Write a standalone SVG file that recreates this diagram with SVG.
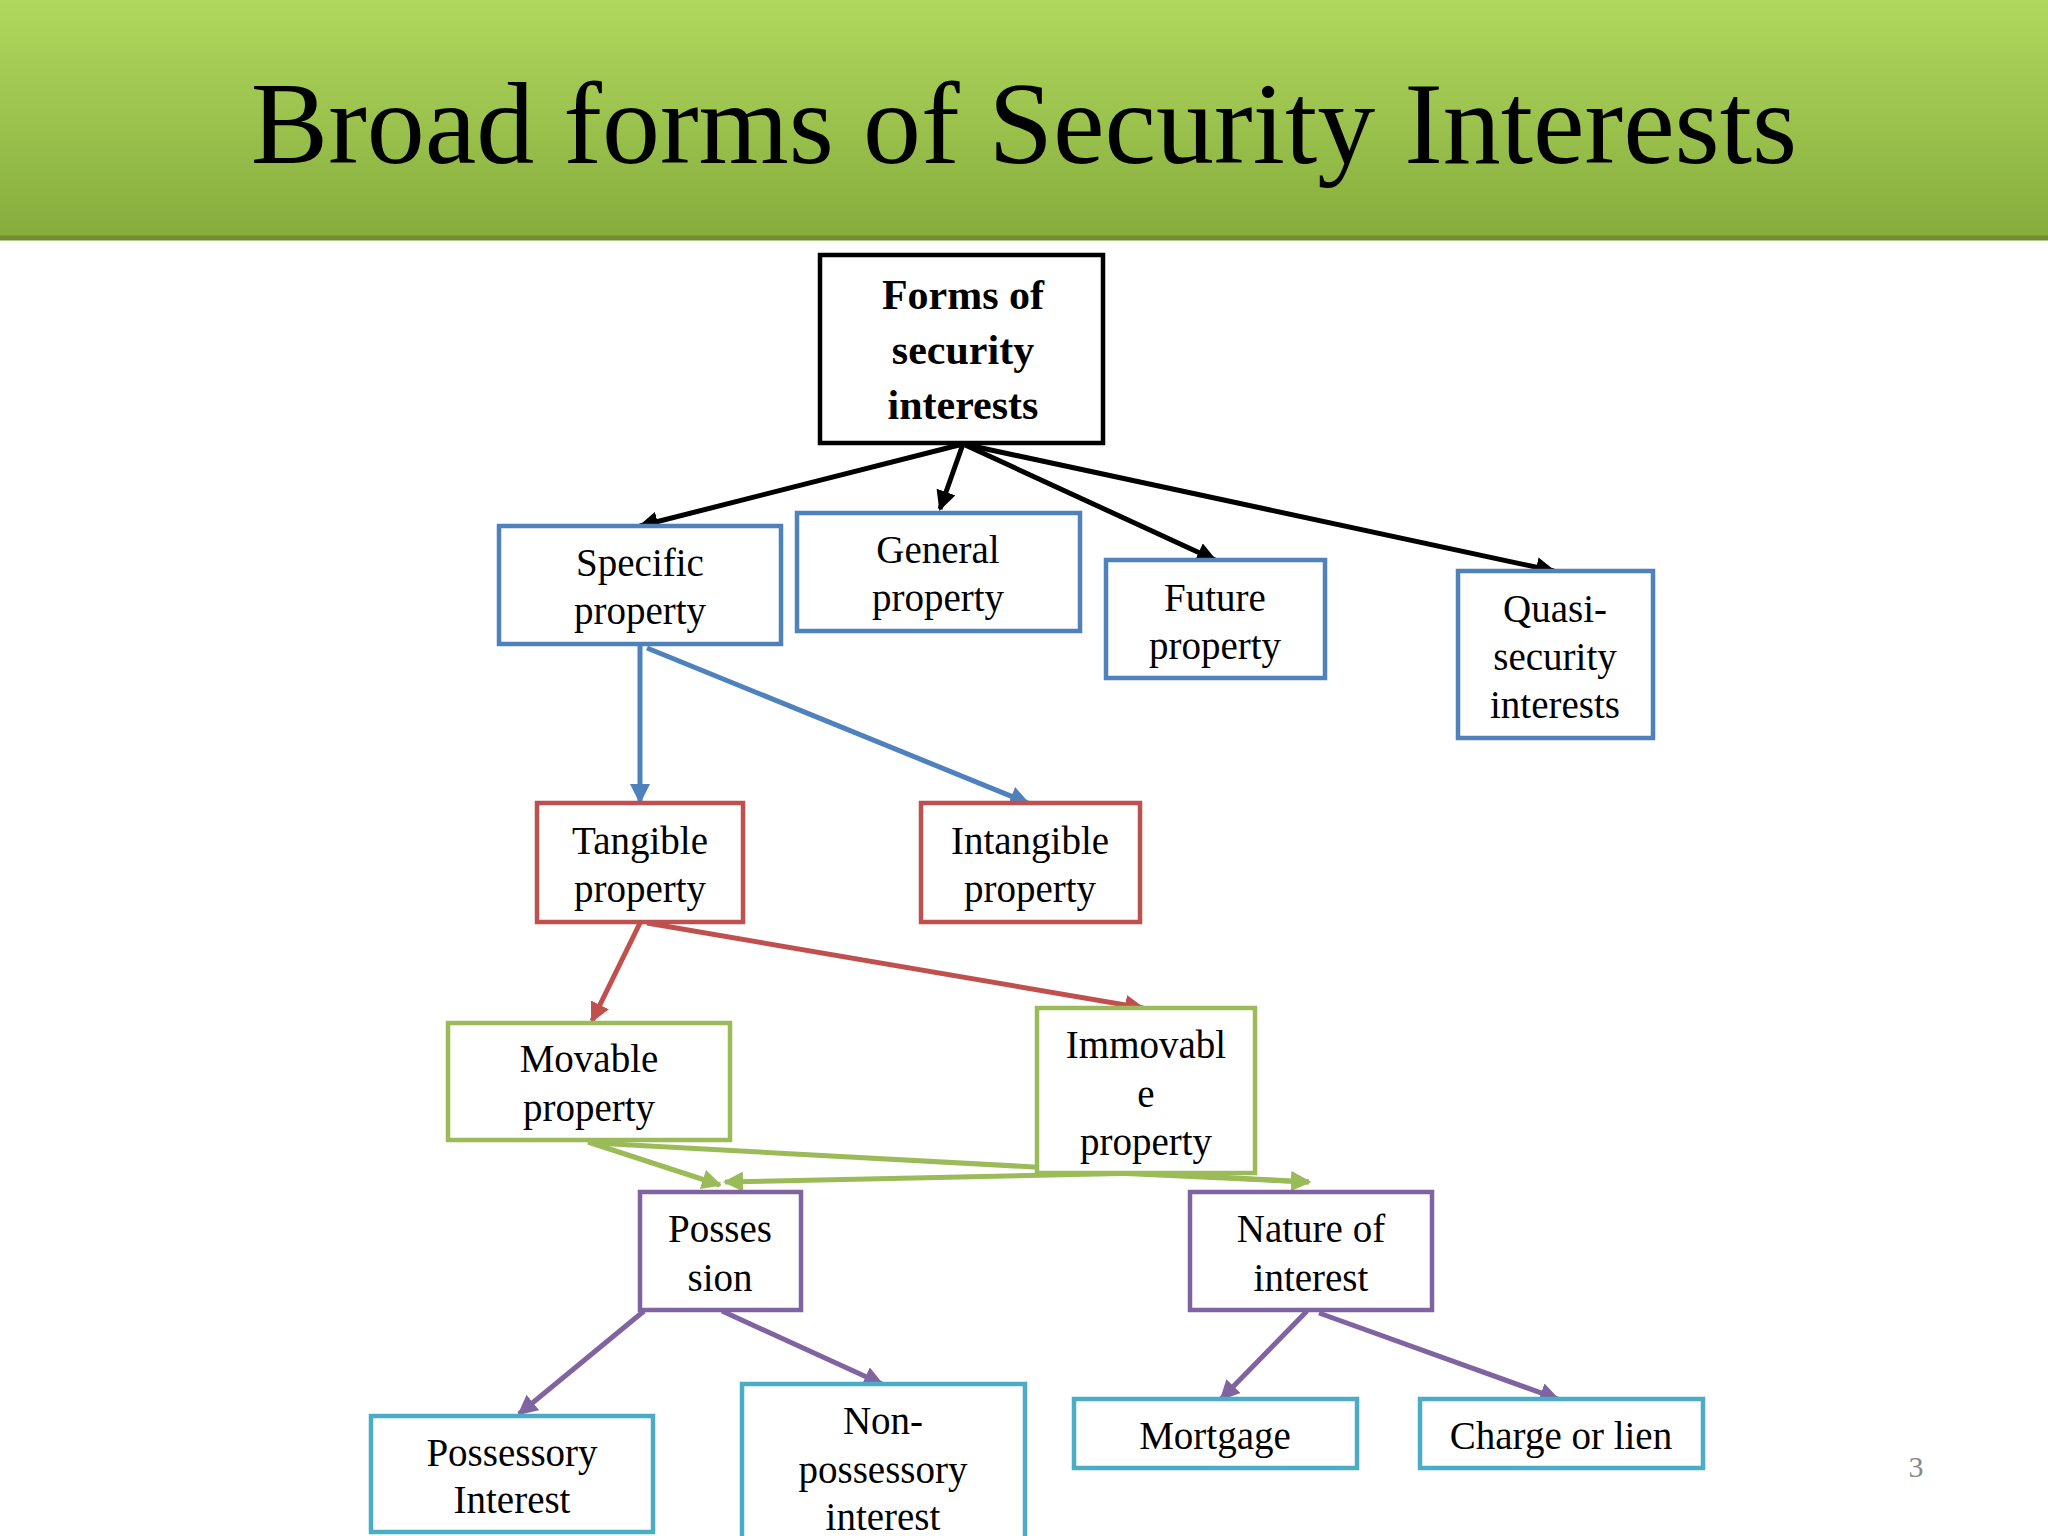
<svg xmlns="http://www.w3.org/2000/svg" width="2048" height="1536" viewBox="0 0 2048 1536">
<defs>
<linearGradient id="g" x1="0" y1="0" x2="0" y2="1"><stop offset="0" stop-color="#b0d85e"/><stop offset="1" stop-color="#86ad3c"/></linearGradient>
<marker id="mk" viewBox="0 0 10 10" refX="9" refY="5" markerWidth="4" markerHeight="4" orient="auto"><path d="M0,0L10,5L0,10z" fill="#000"/></marker>
<marker id="mb" viewBox="0 0 10 10" refX="9" refY="5" markerWidth="4" markerHeight="4" orient="auto"><path d="M0,0L10,5L0,10z" fill="#4F81BD"/></marker>
<marker id="mr" viewBox="0 0 10 10" refX="9" refY="5" markerWidth="4" markerHeight="4" orient="auto"><path d="M0,0L10,5L0,10z" fill="#C0504D"/></marker>
<marker id="mg" viewBox="0 0 10 10" refX="9" refY="5" markerWidth="4" markerHeight="4" orient="auto"><path d="M0,0L10,5L0,10z" fill="#9BBB59"/></marker>
<marker id="mp" viewBox="0 0 10 10" refX="9" refY="5" markerWidth="4" markerHeight="4" orient="auto"><path d="M0,0L10,5L0,10z" fill="#8064A2"/></marker>
</defs>
<style>
text{font-family:"Liberation Serif",serif;font-size:39px;fill:#000;text-anchor:middle}
rect{fill:#fff;stroke-width:4.5}
.k{stroke:#000}.b{stroke:#4F81BD}.r{stroke:#C0504D}.gr{stroke:#9BBB59}.p{stroke:#8064A2}.t{stroke:#4BACC6}
line{stroke-width:5}
</style>
<rect x="0" y="0" width="2048" height="238" style="fill:url(#g);stroke:none"/>
<line x1="0" y1="238" x2="2048" y2="238" stroke="#6f8f30" stroke-width="3"/>
<text x="1024" y="163" style="font-size:116px">Broad forms of Security Interests</text>
<g id="connectors">
<g stroke="#000" marker-end="url(#mk)"><line x1="963" y1="444" x2="640" y2="526"/><line x1="963" y1="444" x2="940" y2="509"/><line x1="963" y1="444" x2="1215" y2="560"/><line x1="963" y1="444" x2="1554" y2="571"/></g>
<g stroke="#4F81BD" marker-end="url(#mb)"><line x1="640" y1="645" x2="640" y2="802"/><line x1="647" y1="648" x2="1028" y2="803"/></g>
<g stroke="#C0504D" marker-end="url(#mr)"><line x1="640" y1="923" x2="592" y2="1021"/><line x1="647" y1="923" x2="1143" y2="1008"/></g>
<g stroke="#9BBB59" marker-end="url(#mg)"><line x1="588" y1="1142" x2="720" y2="1185"/><line x1="594" y1="1143" x2="1309" y2="1182"/><line x1="1145" y1="1173" x2="725" y2="1182"/><line x1="1050" y1="1170" x2="1309" y2="1182"/></g>
<g stroke="#8064A2" marker-end="url(#mp)"><line x1="644" y1="1311" x2="519" y2="1414"/><line x1="722" y1="1311" x2="882" y2="1384"/><line x1="1307" y1="1311" x2="1221" y2="1399"/><line x1="1319" y1="1313" x2="1558" y2="1399"/></g>
</g>
<g id="root"><rect class="k" x="820" y="255" width="283" height="188"/><text x="963" y="309" font-weight="bold" style="font-size:42px">Forms of</text><text x="963" y="364" font-weight="bold" style="font-size:42px">security</text><text x="963" y="419" font-weight="bold" style="font-size:42px">interests</text></g>
<g id="specific"><rect class="b" x="499" y="526" width="282" height="118"/><text x="640" y="576">Specific</text><text x="640" y="624">property</text></g>
<g id="general"><rect class="b" x="797" y="513" width="283" height="118"/><text x="938" y="563">General</text><text x="938" y="611">property</text></g>
<g id="future"><rect class="b" x="1106" y="560" width="219" height="118"/><text x="1215" y="611">Future</text><text x="1215" y="659">property</text></g>
<g id="quasi"><rect class="b" x="1458" y="571" width="195" height="167"/><text x="1555" y="622">Quasi-</text><text x="1555" y="670">security</text><text x="1555" y="718">interests</text></g>
<g id="tangible"><rect class="r" x="537" y="803" width="206" height="119"/><text x="640" y="854">Tangible</text><text x="640" y="902">property</text></g>
<g id="intangible"><rect class="r" x="921" y="803" width="219" height="119"/><text x="1030" y="854">Intangible</text><text x="1030" y="902">property</text></g>
<g id="movable"><rect class="gr" x="448" y="1023" width="282" height="117"/><text x="589" y="1072">Movable</text><text x="589" y="1121">property</text></g>
<g id="immovable"><rect class="gr" x="1037" y="1008" width="218" height="165"/><text x="1146" y="1058">Immovabl</text><text x="1146" y="1107">e</text><text x="1146" y="1155">property</text></g>
<g id="possession"><rect class="p" x="640" y="1192" width="161" height="118"/><text x="720" y="1242">Posses</text><text x="720" y="1291">sion</text></g>
<g id="nature"><rect class="p" x="1190" y="1192" width="242" height="118"/><text x="1311" y="1242">Nature of</text><text x="1311" y="1291">interest</text></g>
<g id="possessory"><rect class="t" x="371" y="1416" width="282" height="116"/><text x="512" y="1466">Possessory</text><text x="512" y="1513">Interest</text></g>
<g id="nonpossessory"><rect class="t" x="742" y="1384" width="283" height="170"/><text x="883" y="1434">Non-</text><text x="883" y="1483">possessory</text><text x="883" y="1530">interest</text></g>
<g id="mortgage"><rect class="t" x="1074" y="1399" width="283" height="69"/><text x="1215" y="1449">Mortgage</text></g>
<g id="charge"><rect class="t" x="1420" y="1399" width="283" height="69"/><text x="1561" y="1449">Charge or lien</text></g>
<text x="1916" y="1477" style="font-size:30px;fill:#888">3</text>
</svg>
